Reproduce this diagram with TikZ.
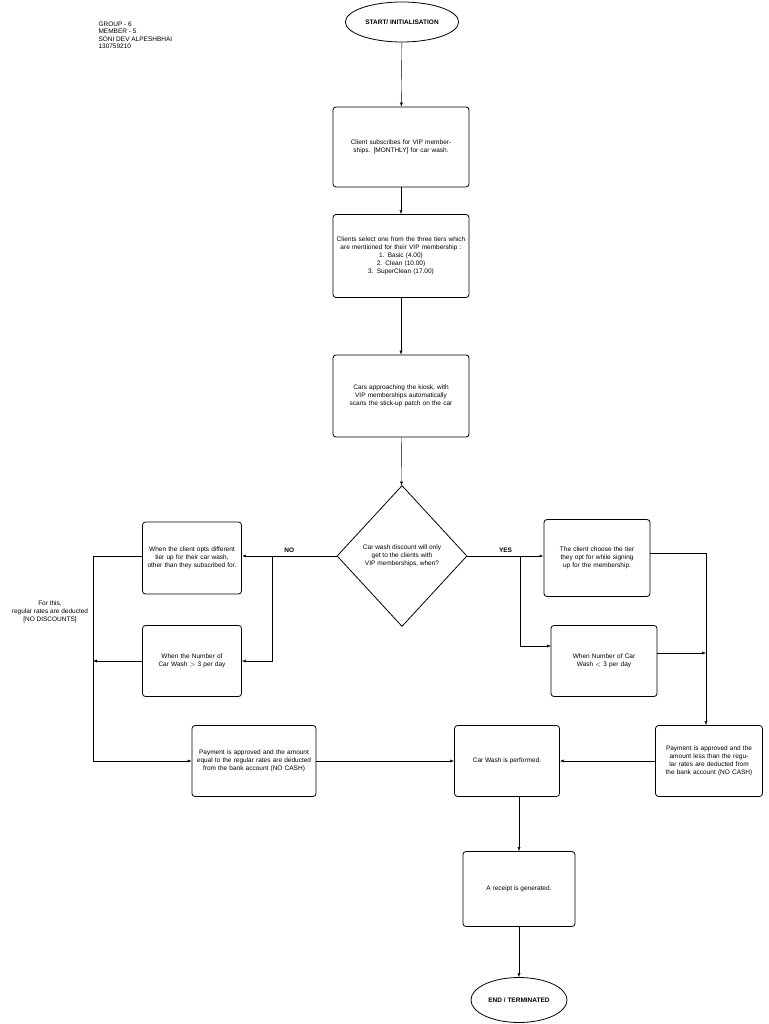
\documentclass[tikz,border=0pt]{standalone}
\usepackage{fontspec}
\setmainfont{Liberation Sans}
\usetikzlibrary{shapes.geometric,arrows.meta}
\tikzset{
    box/.style={draw, thick, rounded corners=3pt, align=center, inner sep=1pt, font=\fontsize{6.5}{8}\selectfont},
    term/.style={draw, thick, ellipse, font=\bfseries\fontsize{6.5}{8}\selectfont},
    flow/.style={-{Latex[length=4pt,width=3pt]}, thin}
}
\begin{document}
\begin{tikzpicture}[x=1pt,y=-1pt]
    \useasboundingbox (0,0) rectangle (768,1024);

    % Header
    \node [align=left, anchor=north west, font=\fontsize{6.5}{7.5}\selectfont] (hdr) at (95,18) {GROUP - 6\\MEMBER - 5\\SONI DEV ALPESHBHAI\\130759210};

    % Main column
    \node [term, minimum width=100, minimum height=40] (start) at (402,22) {START/ INITIALISATION};
    \node [box, minimum width=136, minimum height=80, text width=132] (sub) at (401,147) {Client subscribes for VIP memberships. [MONTHLY] for car wash.};
    \node [box, minimum width=136, minimum height=83, text width=132] (tier) at (401,256) {Clients select one from the three tiers which are mentioned for their VIP membership :\\1. Basic (4.00)\\2. Clean (10.00)\\3. SuperClean (17.00)};
    \node [box, minimum width=136, minimum height=82, text width=132] (scan) at (401,396) {Cars approaching the kiosk, with VIP memberships automatically scans the stick-up patch on the car};
    \node [draw, thick, diamond, aspect=0.92, minimum width=130, minimum height=141, inner sep=0pt, align=center, font=\fontsize{6.5}{8}\selectfont] (dec) at (402,556) {Car wash discount will only\\get to the clients with\\VIP memberships, when?};

    % NO branch
    \node [box, minimum width=99, minimum height=72, text width=97] (optdiff) at (192,558) {When the client opts different tier up for their car wash, other than they subscribed for.};
    \node [box, minimum width=99, minimum height=71, text width=97] (more) at (192,661) {When the Number of Car Wash $>$ 3 per day};
    \node [align=center, font=\fontsize{6.5}{8}\selectfont] (rates) at (50,612) {For this,\\regular rates are deducted\\{[}NO DISCOUNTS{]}};
    \node [box, minimum width=124, minimum height=71, text width=122] (payreg) at (254,761) {Payment is approved and the amount equal to the regular rates are deducted from the bank account (NO CASH)};

    % YES branch
    \node [box, minimum width=106, minimum height=77, text width=104] (choose) at (597,558) {The client choose the tier they opt for while signing up for the membership.};
    \node [box, minimum width=106, minimum height=71, text width=104] (less) at (604,661) {When Number of Car Wash $<$ 3 per day};
    \node [box, minimum width=107, minimum height=71, text width=105] (payless) at (709,761) {Payment is approved and the amount less than the regular rates are deducted from the bank account (NO CASH)};

    % End
    \node [box, minimum width=105, minimum height=71] (wash) at (507,761) {Car Wash is performed.};
    \node [box, minimum width=112, minimum height=75] (receipt) at (519,889) {A receipt is generated.};
    \node [term, minimum width=95, minimum height=45] (stop) at (519,1000) {END / TERMINATED};

    \coordinate (nojoin) at (272,556);
    \coordinate (yesjoin) at (520,556);
    \coordinate (leftbus) at (93,556);
    \coordinate (rightbus) at (706,553);
    \coordinate (lessin) at (551,646);
    \coordinate (lessout) at (657,653);

    % Connectors
    \draw [flow] (start) -- (sub);
    \draw [flow] (sub) -- (tier);
    \draw [flow] (tier) -- (scan);
    \draw [flow] (scan) -- (dec);
    \draw [flow, thick] (dec.west) -- node [above, font=\bfseries\fontsize{6.5}{8}\selectfont] {NO} (optdiff.east |- dec.west);
    \draw [flow] (nojoin) |- (more.east);
    \draw (optdiff.west |- leftbus) -- (leftbus);
    \draw [flow] (leftbus) |- (payreg.west);
    \draw [flow] (more.west) -- (leftbus |- more.west);
    \draw [flow] (payreg) -- (wash);
    \draw [flow, thick] (dec.east) -- node [above, font=\bfseries\fontsize{6.5}{8}\selectfont] {YES} (choose.west |- dec.east);
    \draw [flow] (yesjoin) |- (lessin);
    \draw (choose.east |- rightbus) -- (rightbus);
    \draw [flow] (rightbus) -- (rightbus |- payless.north);
    \draw [flow] (lessout) -- (rightbus |- lessout);
    \draw [flow] (payless) -- (wash);
    \draw [flow] (receipt.north |- wash.south) -- (receipt);
    \draw [flow] (receipt) -- (stop);
\end{tikzpicture}
\end{document}
